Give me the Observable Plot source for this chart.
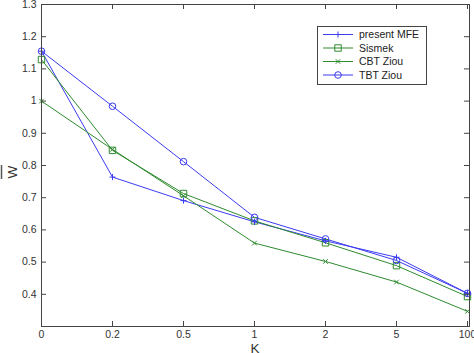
<!DOCTYPE html>
<html><head><meta charset="utf-8">
<script src="https://cdn.jsdelivr.net/npm/d3@7"></script>
<script src="https://cdn.jsdelivr.net/npm/@observablehq/plot@0.6"></script>
<style>body{margin:0;background:#fff} #chart{width:474px;height:353px;overflow:hidden}</style>
</head><body><div id="chart"></div>
<script>
const categories = ["0", "0.2", "0.5", "1", "2", "5", "100"];
const yTicks = [0.4, 0.5, 0.6, 0.7, 0.8, 0.9, 1, 1.1, 1.2, 1.3];
const seriesNames = ["present MFE", "Sismek", "CBT Ziou", "TBT Ziou"];
const presentMFE = [1.155, 0.764, 0.691, 0.625, 0.566, 0.515, 0.403];
const sismek     = [1.129, 0.847, 0.713, 0.628, 0.560, 0.489, 0.393];
const cbtZiou    = [1.000, 0.850, 0.706, 0.559, 0.502, 0.438, 0.347];
const tbtZiou    = [1.155, 0.984, 0.812, 0.639, 0.572, 0.505, 0.403];
const seriesColors = ["#3b3bf0", "#2e8b2e", "#2e8b2e", "#3b3bf0"];
const seriesSymbols = ["plus", "square2", "times", "circle"];
const seriesMarkerR = [2.1, 4.1, 2.2, 3.3];
const d3Symbols = [d3.symbolPlus, d3.symbolSquare2, d3.symbolTimes, d3.symbolCircle];

const seriesValues = [presentMFE, sismek, cbtZiou, tbtZiou];
const data = seriesNames.flatMap((name, s) =>
  categories.map((k, i) => ({series: name, k, w: seriesValues[s][i], mr: seriesMarkerR[s]})));

const axisColor = "#444";
const FONT = "'Liberation Sans', Arial, sans-serif";
const plot = Plot.plot({
  width: 474, height: 353,
  marginLeft: 41, marginRight: 5, marginTop: 4, marginBottom: 27,
  x: {type: "point", domain: categories, range: [41, 467], padding: 0, label: null},
  y: {domain: [0.3, 1.3], label: null},
  r: {type: "identity"},
  color: {domain: seriesNames, range: seriesColors},
  symbol: {domain: seriesNames, range: seriesSymbols},
  style: {fontFamily: FONT, fontSize: "10.5px", color: "#333", background: "#fff"},
  marks: [
    Plot.line(data, {x: "k", y: "w", z: "series", stroke: "series", strokeWidth: 1}),
    Plot.dot(data, {x: "k", y: "w", symbol: "series", stroke: "series", fill: "none", r: "mr", strokeWidth: 1}),
    Plot.frame({stroke: axisColor, strokeWidth: 1}),
    Plot.ruleX(categories, {x: d => d, insetTop: 317, stroke: axisColor}),
    Plot.ruleX(categories, {x: d => d, insetBottom: 317, stroke: axisColor}),
    Plot.ruleY(yTicks, {y: d => d, insetRight: 423, stroke: axisColor}),
    Plot.ruleY(yTicks, {y: d => d, insetLeft: 423, stroke: axisColor}),
    Plot.axisX({ticks: categories, tickSize: 0, tickPadding: 4, fill: "#333"}),
    Plot.axisY({ticks: yTicks, tickSize: 0, tickPadding: 5, tickFormat: d => String(d), fill: "#333"})
  ]
});
document.getElementById("chart").appendChild(plot);

const svg = d3.select(plot);
// x label
svg.append("text").attr("x", 255).attr("y", 353).attr("text-anchor", "middle")
  .attr("font-size", 13.5).attr("fill", "#333").attr("font-family", FONT).text("K");
// y label with overbar
svg.append("text").attr("transform", "translate(17,172) rotate(-90)").attr("text-anchor", "middle")
  .attr("font-size", 13.5).attr("fill", "#333").attr("font-family", FONT).text("W");
svg.append("line").attr("x1", 1.5).attr("x2", 1.5).attr("y1", 165).attr("y2", 179)
  .attr("stroke", "#555").attr("stroke-width", 1.5);

// legend
const lg = svg.append("g").attr("font-family", FONT).attr("font-size", 10.5).attr("text-anchor", "start");
lg.append("rect").attr("x", 317.5).attr("y", 26.5).attr("width", 109).attr("height", 58)
  .attr("fill", "#fff").attr("stroke", axisColor);
seriesNames.forEach((name, i) => {
  const y = 34.5 + i * 13.5;
  lg.append("line").attr("x1", 323).attr("x2", 353).attr("y1", y).attr("y2", y)
    .attr("stroke", seriesColors[i]);
  lg.append("path").attr("transform", `translate(338,${y})`)
    .attr("d", d3.symbol(d3Symbols[i], Math.PI * seriesMarkerR[i] ** 2)())
    .attr("fill", "none").attr("stroke", seriesColors[i]);
  lg.append("text").attr("x", 359).attr("y", y).attr("dy", "0.35em").attr("fill", "#222").text(name);
});
</script></body></html>
